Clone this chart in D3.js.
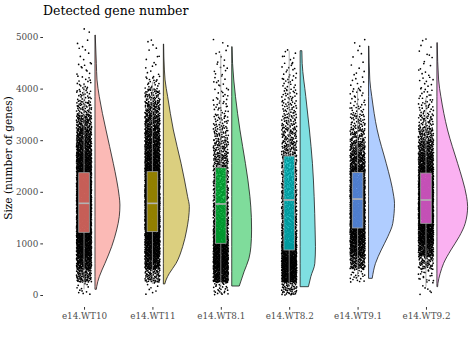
<!DOCTYPE html>
<html>
<head>
<meta charset="utf-8">
<script src="https://cdn.jsdelivr.net/npm/d3@7"></script>
<style>
  body { margin: 0; background: #ffffff; }
  text { font-family: "DejaVu Serif", serif; }
</style>
</head>
<body>
<svg id="chart" width="474" height="338"></svg>
<script>
// Samples and their fill colours
const samples = ["e14.WT10", "e14.WT11", "e14.WT8.1", "e14.WT8.2", "e14.WT9.1", "e14.WT9.2"];
const fillColors = ["#F8766D", "#B79F00", "#00BA38", "#00BFC4", "#619CFF", "#F564E3"];
const yTicks = [0, 1000, 2000, 3000, 4000, 5000];

// Box-plot statistics (detected genes per cell)
const q1 = [1215, 1228, 1002, 872, 1299, 1389];
const median = [1777, 1776, 1764, 1841, 1860, 1841];
const q3 = [2370, 2390, 2467, 2693, 2376, 2363];
const whiskerLow = [110, 213, 174, 161, 323, 161];
const whiskerHigh = [4100, 4133, 4665, 4735, 3991, 3824];

// Number of cells in each 250-gene bin, first bin starting at 0 genes
const binWidth = 250;
const cellsWT10 = [12, 90, 175, 225, 255, 270, 280, 280, 265, 240, 210, 175, 135, 95, 52, 28, 15, 9, 5, 4, 2];
const cellsWT11 = [8, 75, 165, 225, 255, 270, 280, 280, 265, 240, 210, 180, 150, 120, 90, 55, 20, 6, 5, 4];
const cellsWT81 = [30, 190, 250, 240, 190, 135, 115, 100, 90, 82, 72, 58, 44, 30, 19, 13, 10, 8, 6, 3];
const cellsWT82 = [60, 225, 250, 210, 150, 120, 105, 98, 90, 82, 75, 64, 52, 42, 32, 24, 17, 12, 8];
const cellsWT91 = [0, 22, 105, 175, 210, 225, 225, 218, 195, 165, 128, 90, 60, 38, 22, 13, 8, 5, 4, 3];
const cellsWT92 = [7, 19, 60, 150, 225, 255, 270, 270, 248, 210, 158, 112, 72, 42, 24, 15, 9, 7, 5, 4];

// Half-violin density profiles: [genes, scaled density]
const violinWT10 = [[5039, 0.004], [4490, 0.02], [4167, 0.03], [3843, 0.063], [3198, 0.161], [2552, 0.268], [2229, 0.317], [1905, 0.355], [1744, 0.365], [1518, 0.355], [1260, 0.317], [937, 0.244], [614, 0.146], [355, 0.063], [161, 0.025], [110, 0.02]];
const violinWT11 = [[4865, 0.004], [4361, 0.015], [4167, 0.025], [3844, 0.063], [3198, 0.146], [2551, 0.259], [1905, 0.355], [1712, 0.38], [1260, 0.341], [937, 0.282], [614, 0.186], [420, 0.088], [291, 0.039], [213, 0.02]];
const violinWT81 = [[4813, 0.005], [4490, 0.012], [3844, 0.055], [3198, 0.12], [2551, 0.2], [1905, 0.266], [1500, 0.287], [1260, 0.29], [937, 0.28], [700, 0.25], [450, 0.18], [174, 0.11]];
const violinWT82 = [[4735, 0.025], [4490, 0.03], [3844, 0.083], [3198, 0.136], [2551, 0.18], [1905, 0.205], [1260, 0.219], [937, 0.224], [614, 0.215], [355, 0.156], [161, 0.121]];
const violinWT91 = [[4826, 0.005], [4167, 0.019], [3844, 0.048], [3198, 0.127], [2551, 0.259], [2229, 0.322], [1905, 0.37], [1776, 0.38], [1389, 0.355], [1131, 0.282], [873, 0.186], [614, 0.102], [323, 0.054]];
const violinWT92 = [[4891, 0.005], [4167, 0.025], [3844, 0.058], [3198, 0.156], [2551, 0.303], [2229, 0.376], [1905, 0.434], [1712, 0.449], [1389, 0.414], [1131, 0.326], [873, 0.205], [614, 0.098], [420, 0.048], [226, 0.015], [161, 0.01]];

const cellCounts = [cellsWT10, cellsWT11, cellsWT81, cellsWT82, cellsWT91, cellsWT92];
const violins = [violinWT10, violinWT11, violinWT81, violinWT82, violinWT91, violinWT92];

const groups = samples.map((name, i) => ({
  name, color: fillColors[i],
  q1: q1[i], median: median[i], q3: q3[i],
  lo: whiskerLow[i], hi: whiskerHigh[i],
  bins: cellCounts[i], violin: violins[i]
}));

const svg = d3.select("#chart");
const panel = { left: 43, right: 467, top: 22, bottom: 307 };

const x = d3.scalePoint().domain(samples).range([panel.left, panel.right]).padding(0.6);
const step = x.step();
const y = d3.scaleLinear().domain([0, 5000]).range([295, 37]);
const widthScale = d3.scaleLinear().domain([0, 1]).range([0, step]);

const violinNudge = 0.16, boxWidth = 0.155, jitterHalf = 0.11;

// Low-discrepancy sequence used to spread cells inside each bin
function radicalInverse(n, base) {
  let inv = 1 / base, f = inv, r = 0;
  while (n > 0) { r += f * (n % base); n = Math.floor(n / base); f *= inv; }
  return r;
}

// Individual cells
const pointLayer = svg.append("g");
groups.forEach((g, gi) => {
  const cells = [];
  let k = 1 + gi * 7919;
  g.bins.forEach((n, b) => {
    for (let j = 0; j < n; j++, k++) {
      cells.push({
        genes: b * binWidth + binWidth * radicalInverse(k, 2),
        offset: (radicalInverse(k, 3) * 2 - 1) * jitterHalf
      });
    }
  });
  pointLayer.append("g").selectAll("circle").data(cells).join("circle")
    .attr("cx", d => x(g.name) + d.offset * step)
    .attr("cy", d => y(d.genes))
    .attr("r", 0.85)
    .attr("fill", "#000");
});

// Half violins
const violinLayer = svg.append("g");
groups.forEach(g => {
  const base = x(g.name) + violinNudge * step;
  const area = d3.area()
    .y(d => y(d[0]))
    .x0(base)
    .x1(d => base + widthScale(d[1]))
    .curve(d3.curveMonotoneY);
  violinLayer.append("path")
    .datum(g.violin)
    .attr("d", area)
    .attr("fill", g.color)
    .attr("fill-opacity", 0.5)
    .attr("stroke", "#1a1a1a")
    .attr("stroke-width", 0.8);
});

// Box plots
const boxLayer = svg.append("g");
groups.forEach(g => {
  const cx = x(g.name);
  const hw = boxWidth * step / 2;
  const bg = boxLayer.append("g");
  bg.append("line").attr("x1", cx).attr("x2", cx).attr("y1", y(g.q3)).attr("y2", y(g.hi))
    .attr("stroke", "#9a9a9a").attr("stroke-width", 0.8);
  bg.append("line").attr("x1", cx).attr("x2", cx).attr("y1", y(g.q1)).attr("y2", y(g.lo))
    .attr("stroke", "#9a9a9a").attr("stroke-width", 0.8);
  bg.append("rect")
    .attr("x", cx - hw).attr("width", hw * 2)
    .attr("y", y(g.q3)).attr("height", y(g.q1) - y(g.q3))
    .attr("fill", g.color).attr("fill-opacity", 0.8)
    .attr("stroke", "#a6a6a6").attr("stroke-width", 0.8);
  bg.append("line").attr("x1", cx - hw).attr("x2", cx + hw)
    .attr("y1", y(g.median)).attr("y2", y(g.median))
    .attr("stroke", "#b3b3b3").attr("stroke-width", 1.6);
});

// Axes
const yAxis = svg.append("g").attr("transform", `translate(${panel.left},0)`)
  .call(d3.axisLeft(y).tickValues(yTicks).tickSize(2.7).tickPadding(2).tickFormat(d3.format("d")));
const xAxis = svg.append("g").attr("transform", `translate(0,${panel.bottom})`)
  .call(d3.axisBottom(x).tickSize(2.7).tickPadding(3));
[yAxis, xAxis].forEach(a => {
  a.select(".domain").remove();
  a.selectAll(".tick line").attr("stroke", "#333333").attr("stroke-width", 1);
  a.selectAll(".tick text").attr("fill", "#4D4D4D").style("font-size", "8.8px")
    .style("font-family", "DejaVu Serif, serif");
});

// Titles
svg.append("text").attr("x", 43).attr("y", 14.5)
  .style("font-size", "12.5px").attr("fill", "#000")
  .text("Detected gene number");
svg.append("text")
  .attr("transform", "translate(12,158) rotate(-90)")
  .attr("text-anchor", "middle")
  .style("font-size", "10.5px").attr("fill", "#000")
  .text("Size (number of genes)");
</script>
</body>
</html>
